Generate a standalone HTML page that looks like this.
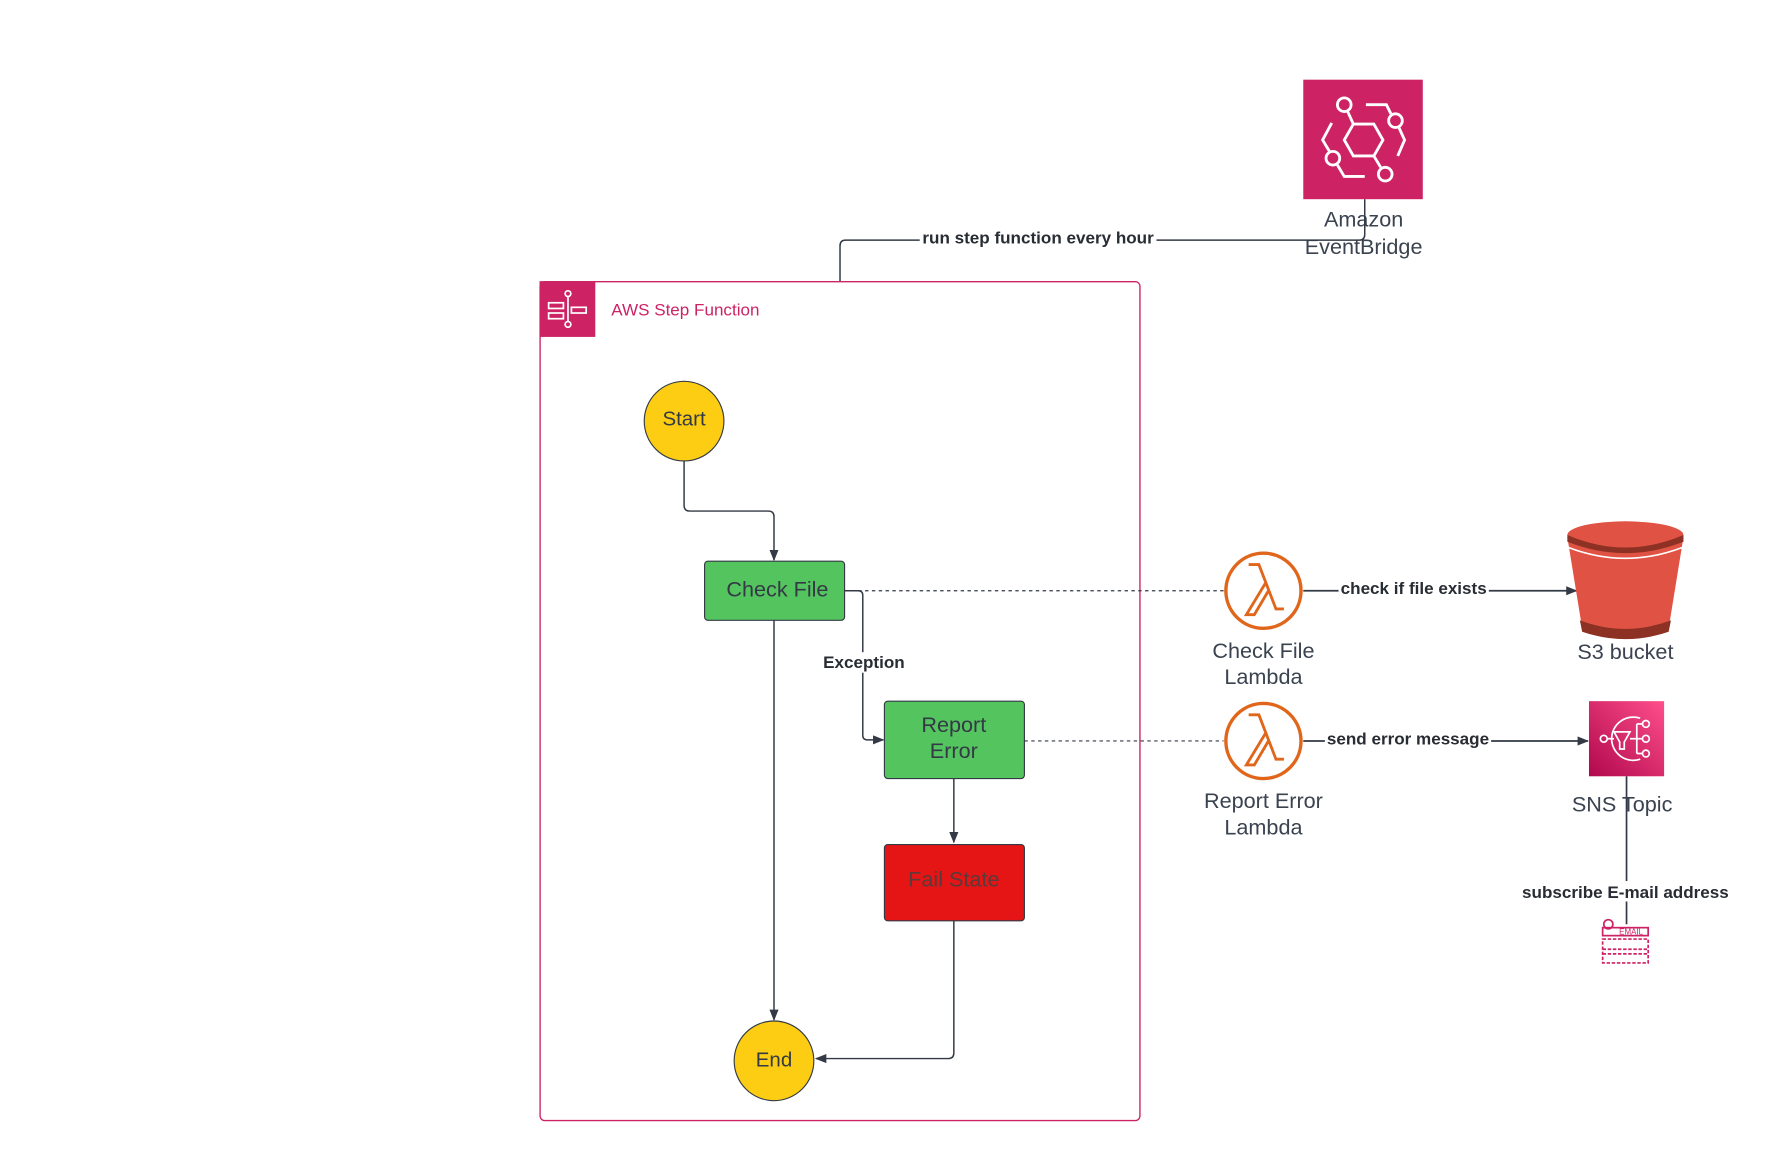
<!DOCTYPE html>
<html><head><meta charset="utf-8"><style>html,body{margin:0;padding:0;background:#fff;}svg{display:block}</style></head>
<body>
<svg width="1785" height="1161" viewBox="0 0 1568 1020" preserveAspectRatio="xMinYMin meet" xmlns="http://www.w3.org/2000/svg" font-family="Liberation Sans, sans-serif">
<defs>
<marker id="ar" markerWidth="10" markerHeight="8" refX="9" refY="4" orient="auto" markerUnits="userSpaceOnUse"><path d="M0,0 L10,4 L0,8 z" fill="#333a45"/></marker>
<linearGradient id="sns" x1="0" y1="1" x2="1" y2="0"><stop offset="0" stop-color="#b0084d"/><stop offset="1" stop-color="#ff4f8b"/></linearGradient>
</defs>
<rect width="1568" height="1020" fill="#fff"/>

<!-- EventBridge -->
<rect x="1145" y="70" width="105" height="105" fill="#cd2264"/>
<g fill="none" stroke="#fff" stroke-width="2.5">
<polygon points="1189,109 1207,109 1215,123 1207,137 1189,137 1181,123"/>
<circle cx="1181" cy="92" r="6"/><line x1="1184" y1="98" x2="1189" y2="109"/>
<circle cx="1217" cy="153" r="6"/><line x1="1207" y1="137" x2="1213" y2="147"/>
<circle cx="1226" cy="106" r="6"/><polyline points="1200,92 1218,92 1222,100"/><polyline points="1229,112 1234,123 1228,137"/>
<circle cx="1171" cy="139" r="6"/><polyline points="1199,155 1181,155 1175,145"/><polyline points="1168,133 1162,123 1170,108"/>
</g>
<text x="1198" y="199" font-size="19" fill="#3b4350" text-anchor="middle">Amazon</text>
<text x="1198" y="223" font-size="19" fill="#3b4350" text-anchor="middle">EventBridge</text>

<!-- trigger line -->
<path d="M1199,175 V206 Q1199,211 1194,211 H743 Q738,211 738,216 V247" fill="none" stroke="#333a45" stroke-width="1.3"/>
<rect x="808" y="200" width="208" height="18" fill="#fff"/>
<text x="912" y="214" font-size="15" font-weight="bold" fill="#282c33" text-anchor="middle">run step function every hour</text>

<!-- Step function group -->
<rect x="474.5" y="247.5" width="527" height="737" rx="4" fill="none" stroke="#cd2264" stroke-width="1.2"/>
<rect x="474" y="247" width="49" height="49" fill="#cd2264"/>
<g fill="none" stroke="#fff" stroke-width="1.5">
<circle cx="499" cy="258" r="2.5"/><line x1="499" y1="261" x2="499" y2="266"/>
<rect x="482" y="266" width="13" height="5"/><rect x="502" y="270" width="13" height="5"/>
<line x1="499" y1="266" x2="499" y2="282"/><circle cx="499" cy="285" r="2.5"/>
<rect x="482" y="275" width="13" height="5"/>
</g>
<text x="537" y="277" font-size="15" fill="#cd2264">AWS Step Function</text>

<!-- Start -->
<circle cx="601" cy="370" r="35" fill="#fccd12" stroke="#333a45" stroke-width="1"/>
<text x="601" y="374" font-size="18" fill="#333a45" text-anchor="middle">Start</text>
<path d="M601,405 V444 Q601,449 606,449 H675 Q680,449 680,454 V492" fill="none" stroke="#333a45" stroke-width="1.3" marker-end="url(#ar)"/>

<!-- Check File -->
<rect x="619" y="493" width="123" height="52" rx="3" fill="#54c45e" stroke="#333a45" stroke-width="1"/>
<text x="683" y="524" font-size="19" fill="#333a45" text-anchor="middle">Check File</text>
<line x1="742" y1="519" x2="1075" y2="519" stroke="#333a45" stroke-width="1" stroke-dasharray="3,3"/>
<path d="M742,519 H754 Q758,519 758,523 V646 Q758,650 762,650 H776" fill="none" stroke="#333a45" stroke-width="1.3" marker-end="url(#ar)"/>
<rect x="722" y="573" width="74" height="18" fill="#fff"/>
<text x="759" y="587" font-size="15" font-weight="bold" fill="#282c33" text-anchor="middle">Exception</text>
<line x1="680" y1="545" x2="680" y2="896" stroke="#333a45" stroke-width="1.3" marker-end="url(#ar)"/>

<!-- Report Error -->
<rect x="777" y="616" width="123" height="68" rx="3" fill="#54c45e" stroke="#333a45" stroke-width="1"/>
<text x="838" y="643" font-size="19" fill="#333a45" text-anchor="middle">Report</text>
<text x="838" y="666" font-size="19" fill="#333a45" text-anchor="middle">Error</text>
<line x1="900" y1="651" x2="1075" y2="651" stroke="#333a45" stroke-width="1" stroke-dasharray="3,3"/>
<line x1="838" y1="684" x2="838" y2="740" stroke="#333a45" stroke-width="1.3" marker-end="url(#ar)"/>

<!-- Fail -->
<rect x="777" y="742" width="123" height="67" rx="3" fill="#e51515" stroke="#333a45" stroke-width="1"/>
<text x="838" y="779" font-size="19" fill="#5a3a3a" text-anchor="middle">Fail State</text>
<path d="M838,809 V925 Q838,930 833,930 H717" fill="none" stroke="#333a45" stroke-width="1.3" marker-end="url(#ar)"/>

<!-- End -->
<circle cx="680" cy="932" r="35" fill="#fccd12" stroke="#333a45" stroke-width="1"/>
<text x="680" y="937" font-size="18" fill="#333a45" text-anchor="middle">End</text>

<!-- Lambdas -->
<g fill="none" stroke="#e0661b" stroke-width="3">
<circle cx="1110" cy="519" r="33"/>
<path d="M1097,496 H1106 L1121,535 H1128 M1112,512 L1095,540 H1102 L1115,518" stroke-width="2.5"/>
<circle cx="1110" cy="651" r="33"/>
<path d="M1097,628 H1106 L1121,667 H1128 M1112,644 L1095,672 H1102 L1115,650" stroke-width="2.5"/>
</g>
<text x="1110" y="578" font-size="19" fill="#3b4350" text-anchor="middle">Check File</text>
<text x="1110" y="601" font-size="19" fill="#3b4350" text-anchor="middle">Lambda</text>
<text x="1110" y="710" font-size="19" fill="#3b4350" text-anchor="middle">Report Error</text>
<text x="1110" y="733" font-size="19" fill="#3b4350" text-anchor="middle">Lambda</text>

<line x1="1145" y1="519" x2="1385" y2="519" stroke="#333a45" stroke-width="1.5" marker-end="url(#ar)"/>
<rect x="1176" y="509" width="132" height="17" fill="#fff"/>
<text x="1242" y="522" font-size="15" font-weight="bold" fill="#282c33" text-anchor="middle">check if file exists</text>
<line x1="1145" y1="651" x2="1395" y2="651" stroke="#333a45" stroke-width="1.5" marker-end="url(#ar)"/>
<rect x="1164" y="641" width="146" height="17" fill="#fff"/>
<text x="1237" y="654" font-size="15" font-weight="bold" fill="#282c33" text-anchor="middle">send error message</text>

<!-- S3 -->
<path d="M1377,472 L1390,552 Q1428,566 1466,552 L1479,472 Z" fill="#e05243"/>
<path d="M1388,545 Q1428,560 1468,545 L1466,555 Q1428,568 1390,555 Z" fill="#8c3123"/>
<ellipse cx="1428" cy="470" rx="51" ry="12" fill="#e05243"/>
<path d="M1377,470 Q1428,492 1479,470 L1479,476 Q1428,496 1377,476 Z" fill="#8c3123"/>
<path d="M1378,481 Q1428,500 1478,481" fill="none" stroke="#fff" stroke-width="1.5"/>
<text x="1428" y="579" font-size="19" fill="#3b4350" text-anchor="middle">S3 bucket</text>

<!-- SNS -->
<rect x="1396" y="616" width="66" height="66" fill="url(#sns)"/>
<g fill="none" stroke="#fff" stroke-width="1.5">
<path d="M1441,631 A19,19 0 1 0 1441,667"/>
<circle cx="1409" cy="649" r="3"/><line x1="1412" y1="649" x2="1418" y2="649"/>
<path d="M1418,643 H1432 L1427,652 V658 H1423 V652 Z"/>
<line x1="1432" y1="649" x2="1443" y2="649"/><line x1="1438" y1="636" x2="1438" y2="662"/>
<line x1="1438" y1="636" x2="1443" y2="636"/><line x1="1438" y1="662" x2="1443" y2="662"/>
<circle cx="1446" cy="636" r="3"/><circle cx="1446" cy="649" r="3"/><circle cx="1446" cy="662" r="3"/>
</g>
<line x1="1429" y1="682" x2="1429" y2="812" stroke="#333a45" stroke-width="1.5"/>
<text x="1381" y="713" font-size="19" fill="#3b4350">SNS Topic</text>
<rect x="1334" y="774" width="188" height="18" fill="#fff"/>
<text x="1428" y="789" font-size="15" font-weight="bold" fill="#282c33" text-anchor="middle">subscribe E-mail address</text>

<!-- email icon -->
<g fill="none" stroke="#cd2264" stroke-width="1.5">
<circle cx="1413" cy="812" r="4"/>
<rect x="1408" y="815" width="40" height="7"/>
<rect x="1408" y="825" width="40" height="21" stroke-dasharray="3,1.5"/>
<line x1="1408" y1="834" x2="1448" y2="834" stroke-dasharray="3,1.5"/>
<line x1="1408" y1="838" x2="1448" y2="838" stroke-dasharray="3,1.5"/>
</g>
<text x="1433" y="821" font-size="7" fill="#cd2264" text-anchor="middle">EMAIL</text>
</svg>
</body></html>
